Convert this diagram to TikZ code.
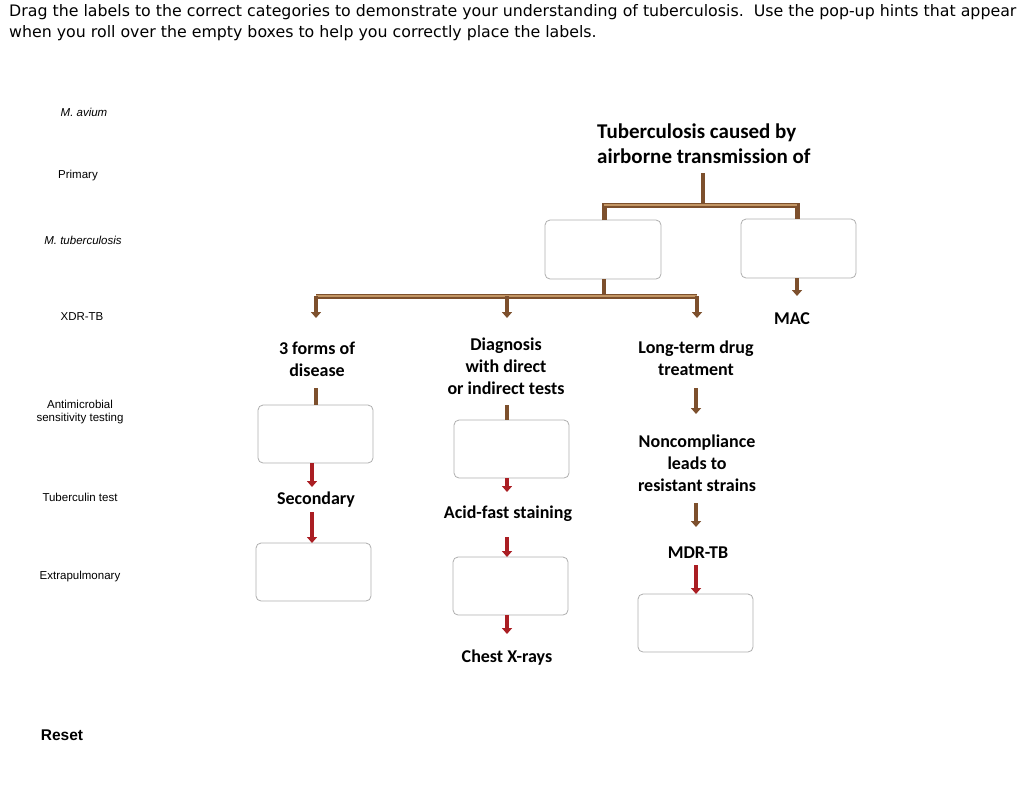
\documentclass[tikz,border=0pt]{standalone}
\usepackage{fontspec}
\setmainfont{Liberation Sans}
\newfontfamily\calfont{Carlito}
\newfontfamily\hfont{DejaVu Sans}
\usetikzlibrary{arrows.meta}
\definecolor{brn}{RGB}{125,80,45}
\definecolor{lbrn}{RGB}{195,150,100}
\definecolor{rd}{RGB}{170,30,35}
\definecolor{bx}{RGB}{175,175,175}
\begin{document}
\begin{tikzpicture}[x=1pt,y=-1pt,
  box/.style={draw=bx,line width=0.8,rounded corners=5,fill=white},
  lab/.style={font=\calfont\bfseries\fontsize{18}{22}\selectfont,align=center,text=black,inner sep=0},
  side/.style={font=\fontsize{11.5}{13}\selectfont,align=center,inner sep=0},
  bar/.style={brn,line width=5},
  stripe/.style={lbrn,line width=1.3},
  barr/.style={brn,line width=4,-{Triangle[width=10,length=6]}},
  rarr/.style={rd,line width=4,-{Triangle[width=10,length=6]}}]
\useasboundingbox (0,0) rectangle (1024,807);
\node[anchor=west,inner sep=0,font=\hfont\fontsize{15.8}{18}\selectfont] (h1) at (9,12) {Drag the labels to the correct categories to demonstrate your understanding of tuberculosis.\ \ Use the pop-up hints that appear};
\node[anchor=west,inner sep=0,font=\hfont\fontsize{15.8}{18}\selectfont] (h2) at (9,33) {when you roll over the empty boxes to help you correctly place the labels.};
\node[side] (s1) at (84,112) {\itshape M. avium};
\node[side] (s2) at (78,176) {Primary};
\node[side] (s3) at (83,240) {\itshape M. tuberculosis};
\node[side] (s4) at (82,317) {XDR-TB};
\node[side] (s5) at (80,412) {Antimicrobial\\sensitivity testing};
\node[side] (s6) at (80,497) {Tuberculin test};
\node[side] (s7) at (80,577) {Extrapulmonary};
\node[inner sep=0,font=\bfseries\fontsize{15.5}{18}\selectfont] (rs) at (62,735) {Reset};
\node[lab,align=left,anchor=north west,font=\calfont\bfseries\fontsize{21}{25}\selectfont] (title) at (597,124) {Tuberculosis caused by\\airborne transmission of};
% boxes
\node[box,minimum width=116,minimum height=59] (b1) at (603,249.5) {};
\node[box,minimum width=115,minimum height=59] (b2) at (798.5,248.5) {};
\node[box,minimum width=115,minimum height=58] (c1a) at (315.5,434) {};
\node[box,minimum width=115,minimum height=58] (c1b) at (313.5,572) {};
\node[box,minimum width=115,minimum height=58] (c2a) at (511.5,449) {};
\node[box,minimum width=115,minimum height=58] (c2b) at (510.5,586) {};
\node[box,minimum width=115,minimum height=58] (c3a) at (695.5,623) {};
% labels
\node[lab] (mac) at (792,319) {MAC};
\node[lab] (l1) at (317,359.5) {3 forms of\\disease};
\node[lab] (l2) at (506,366.5) {Diagnosis\\with direct\\or indirect tests};
\node[lab] (l3) at (696,358.5) {Long-term drug\\treatment};
\node[lab] (sec) at (316,500) {Secondary};
\node[lab] (afs) at (508,514) {Acid-fast staining};
\node[lab] (cx) at (507,658) {Chest X-rays};
\node[lab] (nc) at (697,463.5) {Noncompliance\\leads to\\resistant strains};
\node[lab] (mdr) at (698,553) {MDR-TB};
% top tree
\draw[brn,line width=4] (703,173) -- (703,205);
\draw[bar] (604,220) -- (604,205) -- (797,205) -- (797,219);
\draw[stripe] (604,205) -- (797,205);
\draw[brn,line width=4] (604,279) -- (604,296);
\draw[barr] (797,278) -- (797,296);
\draw[bar] (316,296) -- (697,296);
\draw[stripe] (316,296) -- (697,296);
\draw[barr] (316,296) -- (316,318);
\draw[barr] (507,296) -- (507,318);
\draw[barr] (697,296) -- (697,318);
% column 1
\draw[brn,line width=4] (316,388) -- (316,405);
\draw[rarr] (312,463) -- (312,487);
\draw[rarr] (312,512) -- (312,543);
% column 2
\draw[brn,line width=4] (507,405) -- (507,420);
\draw[rarr] (507,478) -- (507,492);
\draw[rarr] (507,537) -- (507,557);
\draw[rarr] (507,615) -- (507,634);
% column 3
\draw[barr] (696,388) -- (696,414);
\draw[barr] (696,503) -- (696,527);
\draw[rarr] (696,565) -- (696,594);
\end{tikzpicture}
\end{document}
